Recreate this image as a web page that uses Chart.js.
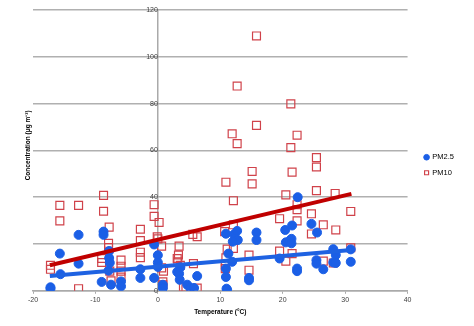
<!DOCTYPE html>
<html>
<head>
<meta charset="utf-8">
<script src="https://cdn.jsdelivr.net/npm/chart.js@4.4.0/dist/chart.umd.min.js"></script>
<style>
  html, body { margin: 0; padding: 0; background: #fff; }
</style>
</head>
<body>
<canvas id="chart" width="474" height="326"></canvas>
<script>
// PM2.5 samples: temperature (°C) and concentration (µg m-3)
const pm25Temp = [-17.2, -17.2, -15.7, -15.6, -12.7, -12.7, -8.7, -8.7, -9.0, -7.8,
    -7.8, -7.7, -7.9, -7.5, -5.9, -5.9, -2.8, -2.8, -0.6, -0.6,
    0, 0, 0, 0.8, 0.8, 3.1, 3.4, 3.5, 3.6, 4.7,
    5.2, 5.8, 6.3, 10.9, 12.2, 12.7, 12.4, 12.8, 12.0, 15.8,
    15.8, 11.3, 11.9, 10.9, 10.9, 11.0, 11.1, 14.6, 14.6, 19.5,
    20.4, 20.5, 21.1, 21.4, 21.4, 21.5, 22.4, 22.3, 22.3, 24.6,
    25.5, 25.4, 25.4, 26.5, 28.1, 28.5, 28.1, 28.5, 30.9, 30.9];
const pm25Conc = [1.5, 0.8, 15.9, 7.1, 23.9, 11.6, 25.3, 23.9, 3.8, 17.0,
    14.0, 12.0, 8.6, 2.6, 4.0, 1.9, 9.2, 5.5, 5.5, 19.8,
    15.2, 12.1, 10.2, 2.6, 1.2, 8.1, 7.3, 4.7, 10.0, 2.6,
    1.2, 1.2, 6.3, 24.4, 24.1, 25.6, 22.2, 21.7, 21.0, 24.9,
    21.7, 15.9, 12.4, 9.5, 5.9, 0.9, 0.4, 5.5, 4.5, 13.8,
    26.0, 20.7, 21.3, 22.2, 20.3, 27.9, 40.0, 9.5, 8.4, 28.6,
    24.9, 13.1, 11.6, 9.2, 17.8, 15.3, 12.1, 11.9, 17.7, 12.4];

// PM10 samples
const pm10Temp = [-17.2, -17.2, -15.7, -15.7, -12.7, -12.7, -8.7, -8.7, -7.8, -7.9,
    -7.9, -9.0, -9.0, -7.7, -7.5, -5.9, -5.9, -5.9, -5.9, -2.8,
    -2.8, -2.8, -2.8, -0.6, -0.6, 0.2, -0.1, 0, 0.6, 0.6,
    0.9, 0.8, 0.8, 3.4, 3.3, 3.1, 3.2, 3.6, 4.1, 4.5,
    6.3, 5.6, 6.3, 5.7, 10.9, 12.1, 12.1, 10.7, 11.1, 12.1,
    10.9, 10.8, 10.8, 11.9, 12.7, 12.7, 15.8, 15.8, 15.1, 15.1,
    14.6, 14.6, 19.5, 19.5, 20.5, 20.5, 21.3, 21.3, 21.5, 22.3,
    22.3, 22.3, 22.3, 21.5, 24.6, 24.6, 25.4, 25.4, 25.4, 26.5,
    26.5, 28.4, 28.5, 28.1, 30.9, 30.9];
const pm10Conc = [10.9, 9.2, 36.5, 29.9, 36.5, 0.9, 40.8, 34.0, 27.2, 20.3,
    18.5, 13.8, 12.1, 8.4, 4.3, 13.1, 10.5, 8.4, 5.9, 26.3,
    21.5, 16.5, 14.2, 36.8, 31.8, 29.2, 23.1, 22.2, 19.1, 9.8,
    8.4, 3.8, 2.6, 19.1, 15.3, 13.8, 12.4, 10.9, 1.6, 0.9,
    1.2, 24.1, 23.1, 11.6, 46.4, 38.5, 28.2, 25.3, 17.8, 18.1,
    14.1, 10.9, 9.5, 67.1, 62.9, 87.5, 108.9, 70.7, 51.0, 45.7,
    15.3, 8.8, 30.8, 17.0, 41.0, 12.7, 79.9, 61.2, 50.7, 66.5,
    36.8, 34.7, 29.9, 15.9, 32.9, 24.3, 56.9, 52.9, 42.8, 28.2,
    12.7, 41.6, 26.0, 11.9, 33.9, 18.4];

// trend line end points
const trendTemp = [-17.3, 31.0];
const pm25Trend = [6.3, 17.4];
const pm10Trend = [10.9, 41.4];

const toPoints = (xs, ys) => xs.map((x, i) => ({ x: x, y: ys[i] }));

const FONT = '"Liberation Sans", Arial, sans-serif';

// y axis title drawn by hand, the axis itself sits at x = 0
const yTitlePlugin = {
    id: 'yTitle',
    afterDraw(chart) {
        const ctx = chart.ctx;
        const area = chart.chartArea;
        ctx.save();
        ctx.translate(28, (area.top + area.bottom) / 2 - 5);
        ctx.rotate(-Math.PI / 2);
        ctx.font = 'bold 6.5px ' + FONT;
        ctx.fillStyle = '#000';
        ctx.textAlign = 'center';
        ctx.textBaseline = 'middle';
        ctx.fillText('Concentration (μg m⁻³)', 0, 0);
        ctx.restore();
    }
};

new Chart(document.getElementById('chart'), {
    type: 'scatter',
    data: {
        datasets: [
            {
                label: 'PM2.5',
                data: toPoints(pm25Temp, pm25Conc),
                pointStyle: 'circle',
                pointRadius: 4.5,
                backgroundColor: '#1b5fe6',
                borderColor: '#1b5fe6',
                borderWidth: 1
            },
            {
                label: 'PM10',
                data: toPoints(pm10Temp, pm10Conc),
                pointStyle: 'rect',
                pointRadius: 5.6,
                backgroundColor: 'rgba(255,255,255,0)',
                borderColor: '#d0424a',
                borderWidth: 1.2
            },
            {
                label: 'pm25 trend',
                data: toPoints(trendTemp, pm25Trend),
                showLine: true,
                pointRadius: 0,
                borderColor: '#1e62e2',
                borderWidth: 4,
                order: -1
            },
            {
                label: 'pm10 trend',
                data: toPoints(trendTemp, pm10Trend),
                showLine: true,
                pointRadius: 0,
                borderColor: '#c00000',
                borderWidth: 4,
                order: -1
            }
        ]
    },
    options: {
        responsive: false,
        animation: false,
        layout: {
            padding: { left: 33, top: 10, right: 10, bottom: 6 }
        },
        scales: {
            x: {
                type: 'linear',
                min: -20,
                max: 40,
                ticks: {
                    stepSize: 10,
                    padding: 2,
                    color: '#404040',
                    font: { family: FONT, size: 7 }
                },
                grid: {
                    drawOnChartArea: false,
                    drawTicks: true,
                    tickLength: 3,
                    color: '#aaaaaa'
                },
                border: { color: '#aaaaaa', width: 1.5 },
                title: {
                    display: true,
                    text: 'Temperature (°C)',
                    color: '#000',
                    padding: { top: 2, bottom: 4 },
                    font: { family: FONT, size: 6.5, weight: 'bold' }
                }
            },
            y: {
                type: 'linear',
                position: { x: 0 },
                min: 0,
                max: 120,
                ticks: {
                    stepSize: 20,
                    padding: 3,
                    color: '#404040',
                    font: { family: FONT, size: 7 }
                },
                grid: {
                    color: '#b0b0b0',
                    lineWidth: 1.5,
                    tickLength: 4
                },
                border: { color: '#aaaaaa', width: 1.5 }
            },
            // empty spacer between the plot and the legend
            gap: {
                type: 'linear',
                position: 'right',
                min: 0,
                max: 1,
                grid: { display: false },
                border: { display: false },
                ticks: { display: false },
                afterFit: scale => { scale.width = 9; }
            }
        },
        plugins: {
            legend: {
                position: 'right',
                labels: {
                    usePointStyle: true,
                    boxWidth: 4,
                    boxHeight: 4,
                    padding: 8,
                    color: '#000',
                    font: { family: FONT, size: 7.5 },
                    filter: item => item.text.indexOf('trend') === -1
                }
            },
            tooltip: { enabled: false }
        }
    },
    plugins: [yTitlePlugin]
});
</script>
</body>
</html>
